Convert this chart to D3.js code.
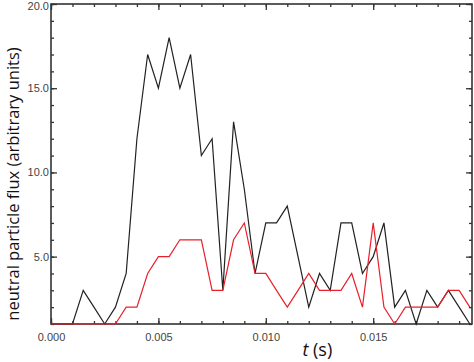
<!DOCTYPE html>
<meta charset="utf-8">
<script src="https://d3js.org/d3.v7.min.js"></script>
<style>
  body { margin: 0; background: #fff; }
  .tick text { font-family: "Liberation Sans", Arial, sans-serif; font-size: 11px; fill: #444; }
</style>
<div id="chart"></div>
<script>

// time samples (s), every 0.5 ms
var times = d3.range(40).map(function(i) { return +(i * 0.0005).toFixed(4); });

// black trace
var fluxBlack = [1, 1, 1, 3, 2, 1, 2, 4, 12, 17,
                 15, 18, 15, 17, 11, 12, 3, 13, 9, 4,
                 7, 7, 8, 5, 2, 4, 3, 7, 7, 4,
                 5, 7, 2, 3, 1, 3, 2, 3, 2, 1];

// red trace
var fluxRed = [1, 1, 1, 1, 1, 1, 1, 2, 2, 4,
               5, 5, 6, 6, 6, 3, 3, 6, 7, 4,
               4, 3, 2, 3, 4, 3, 3, 3, 4, 2,
               7, 2, 1, 2, 2, 2, 2, 3, 3, 2];

var xMajor = [0, 0.005, 0.010, 0.015];
var yMajor = [5, 10, 15, 20];

var margin = {top: 4, right: 2, bottom: 38, left: 51},
    width = 474 - margin.left - margin.right,
    height = 362 - margin.top - margin.bottom;

var svg = d3.select("#chart")
  .append("svg")
    .attr("width", 474)
    .attr("height", 362)
  .append("g")
    .attr("transform", "translate(" + margin.left + "," + margin.top + ")");

var x = d3.scaleLinear().domain([0, 0.0196]).range([0, width]);
var y = d3.scaleLinear().domain([1, 20]).range([height, 0]);

var xMinor = d3.range(0, 0.0196, 0.001);
var yMinor = d3.range(1, 20.5, 1);

// minor ticks, all four sides, pointing inward
function minorAxis(axis, vals) {
  return axis.tickValues(vals).tickSize(-3).tickFormat("");
}
svg.append("g").attr("transform", "translate(0," + height + ")")
  .call(minorAxis(d3.axisBottom(x), xMinor));
svg.append("g").call(minorAxis(d3.axisTop(x), xMinor));
svg.append("g").call(minorAxis(d3.axisLeft(y), yMinor));
svg.append("g").attr("transform", "translate(" + width + ",0)")
  .call(minorAxis(d3.axisRight(y), yMinor));

// major ticks
svg.append("g").attr("transform", "translate(0," + height + ")")
  .call(d3.axisBottom(x).tickValues(xMajor).tickSize(-6).tickPadding(9).tickFormat(d3.format(".3f")));
svg.append("g")
  .call(d3.axisTop(x).tickValues(xMajor).tickSize(-6).tickFormat(""));
var yAx = svg.append("g")
  .call(d3.axisLeft(y).tickValues(yMajor).tickSize(-6).tickPadding(2).tickFormat(d3.format(".1f")));
yAx.selectAll(".tick text").filter(function(d) { return d === 20; }).attr("dy", "0.5em");
svg.append("g").attr("transform", "translate(" + width + ",0)")
  .call(d3.axisRight(y).tickValues(yMajor).tickSize(-6).tickFormat(""));

svg.selectAll(".domain").remove();
svg.selectAll(".tick line").attr("stroke", "#333").attr("stroke-width", 1.3);

// frame
svg.append("rect")
  .attr("width", width).attr("height", height)
  .attr("fill", "none").attr("stroke", "#333").attr("stroke-width", 1.6);

var line = d3.line()
  .x(function(d, i) { return x(times[i]); })
  .y(function(d) { return y(d); });

svg.append("path").datum(fluxBlack)
  .attr("fill", "none").attr("stroke", "#222").attr("stroke-width", 1.2)
  .attr("d", line);

svg.append("path").datum(fluxRed)
  .attr("fill", "none").attr("stroke", "#e8202c").attr("stroke-width", 1.2)
  .attr("d", line);

// axis titles
svg.append("text")
  .attr("transform", "rotate(-90)")
  .attr("x", -180)
  .attr("y", -margin.left + 19)
  .style("text-anchor", "middle")
  .style("font-family", "'Open Sans', sans-serif")
  .style("font-size", "16.5px")
  .attr("fill", "#111")
  .text("neutral particle flux (arbitrary units)");

var xt = svg.append("text")
  .attr("x", x(0.0124))
  .attr("y", height + 32)
  .style("text-anchor", "middle")
  .style("font-family", "'Open Sans', sans-serif")
  .style("font-size", "18px")
  .attr("fill", "#111");
xt.append("tspan").style("font-style", "italic").text("t");
xt.append("tspan").text(" (s)");

</script>
